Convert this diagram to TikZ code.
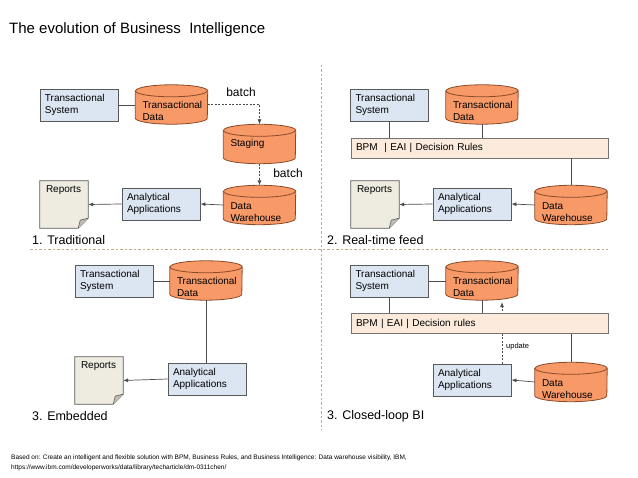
\documentclass[tikz,border=0pt]{standalone}
\usepackage{fontspec}
\setmainfont{Liberation Sans}
\usetikzlibrary{arrows.meta}
\definecolor{cylfill}{HTML}{F79A68}
\definecolor{cylline}{HTML}{8A4A2A}
\definecolor{boxfill}{HTML}{DCE6F2}
\definecolor{barfill}{HTML}{FCEBDC}
\definecolor{repfill}{HTML}{EEEBE1}
\definecolor{sepcol}{HTML}{C8A882}
\tikzset{
  box/.style={draw=black!65,fill=boxfill,line width=0.8pt,minimum width=78pt,minimum height=32pt,text width=68pt,align=left,inner sep=4pt,font=\fontsize{10}{12}\selectfont},
  cylnode/.style={minimum width=72pt,minimum height=39pt,inner sep=0pt},
  cylst/.style={draw=cylline,fill=cylfill,line width=0.8pt},
  cyltext/.style={anchor=west,align=left,inner sep=0pt,font=\fontsize{10}{12}\selectfont},
  bar/.style={draw=black!55,fill=barfill,line width=0.6pt,minimum width=257pt,minimum height=20pt,text width=247pt,align=left,inner sep=4pt,font=\fontsize{10}{12}\selectfont},
  rep/.style={minimum width=48pt,minimum height=47pt,inner sep=0pt},
  conn/.style={draw=black!70,line width=0.7pt},
  arr/.style={conn,-{Latex[length=5pt,width=4pt]}},
  darr/.style={conn,dash pattern=on 2pt off 1.5pt,-{Latex[length=5pt,width=4pt]}},
  lbl/.style={font=\fontsize{12.5}{14}\selectfont,inner sep=0pt},
  sep/.style={draw=sepcol,line width=0.6pt,dash pattern=on 2.5pt off 2pt}
}
\newcommand\mycyl[5]{%
  \node[cylnode] (#1) at (#2,#3) {};
  \draw[cylst] ([yshift=-6pt]#1.north west) -- ([yshift=6pt]#1.south west)
    arc[start angle=180,end angle=360,x radius=36pt,y radius=6pt]
    -- ([yshift=-6pt]#1.north east)
    arc[start angle=0,end angle=180,x radius=36pt,y radius=6pt] -- cycle;
  \draw[cylline,line width=0.8pt] ([yshift=-6pt]#1.north west) arc[start angle=180,end angle=360,x radius=36pt,y radius=6pt];
  \node[cyltext] (#1-t) at ([xshift=7pt,yshift=#5]#1.west) {#4};
}
\newcommand\myrep[3]{%
  \node[rep] (#1) at (#2,#3) {};
  \draw[draw=black!65,fill=repfill,line width=0.8pt] (#1.north west) -- (#1.north east) -- ([yshift=10pt]#1.south east) -- ([xshift=-10pt]#1.south east) -- (#1.south west) -- cycle;
  \draw[draw=black!65,fill=repfill!80!black,line width=0.6pt] ([yshift=10pt]#1.south east) -- ([xshift=-8pt,yshift=8pt]#1.south east) -- ([xshift=-10pt]#1.south east);
  \node[anchor=north west,inner sep=0pt,font=\fontsize{10}{12}\selectfont] (#1-t) at ([xshift=6pt,yshift=-5pt]#1.north west) {Reports};
}
\begin{document}
\begin{tikzpicture}[x=1pt,y=1pt]
\useasboundingbox[fill=white] (0,0) rectangle (638,478);
\node[anchor=west,inner sep=0pt,font=\fontsize{15}{18}\selectfont] (title) at (9,448) {The evolution of Business\ \ Intelligence};
% separators
\coordinate (v1) at (321,413); \coordinate (v2) at (321,48);
\coordinate (h1) at (30,229); \coordinate (h2) at (608,229);
\draw[sep] (v1) -- (v2);
\draw[sep] (h1) -- (h2);
% panel 1
\node[box] (ts1) at (79,373) {Transactional\\System};
\mycyl{td1}{171.5}{373.5}{Transactional\\Data}{-6pt}
\mycyl{st1}{259.5}{334}{Staging}{0pt}
\mycyl{dw1}{259.5}{273}{Data\\Warehouse}{-7pt}
\node[box] (aa1) at (161,274) {Analytical\\Applications};
\myrep{rp1}{64}{273.5}
\draw[conn] (ts1) -- (td1.west |- ts1.east);
\draw[darr] ([yshift=0pt]td1.east) -| (st1.north);
\draw[darr] (st1.south) -- (dw1.north);
\node[lbl,font=\fontsize{12}{14}\selectfont] (b1) at (241,386) {batch};
\node[lbl,font=\fontsize{12}{14}\selectfont] (b2) at (288,305) {batch};
\draw[arr] (dw1.west) -- (aa1.east);
\draw[arr] (aa1.west) -- (rp1.east);
\node[lbl,anchor=west] (l1) at (32,238) {1. Traditional};
% panel 2
\node[box] (ts2) at (389.5,373) {Transactional\\System};
\mycyl{td2}{482}{373.5}{Transactional\\Data}{-6pt}
\node[bar] (bar2) at (479.5,330) {BPM\ \ | EAI | Decision Rules};
\mycyl{dw2}{571}{273}{Data\\Warehouse}{-7pt}
\node[box] (aa2) at (472,274) {Analytical\\Applications};
\myrep{rp2}{375}{273.5}
\draw[conn] (ts2.south) -- (ts2.south |- bar2.north);
\draw[conn] (td2.south) -- (td2.south |- bar2.north);
\draw[conn] (dw2.north |- bar2.south) -- (dw2.north);
\draw[arr] (dw2.west) -- (aa2.east);
\draw[arr] (aa2.west) -- (rp2.east);
\node[lbl,anchor=west] (l2) at (327,238) {2. Real-time feed};
% panel 3
\node[box] (ts3) at (114,197) {Transactional\\System};
\mycyl{td3}{206}{197.5}{Transactional\\Data}{-6pt}
\node[box] (aa3) at (207,99) {Analytical\\Applications};
\myrep{rp3}{99}{97.5}
\draw[conn] (ts3) -- (td3.west |- ts3.east);
\draw[conn] (td3.south) -- (td3.south |- aa3.north);
\draw[arr] (aa3.west) -- (rp3.east);
\node[lbl,anchor=west] (l3) at (32,62) {3. Embedded};
% panel 4
\node[box] (ts4) at (389.5,197) {Transactional\\System};
\mycyl{td4}{482}{197.5}{Transactional\\Data}{-6pt}
\mycyl{dw4}{571}{96}{Data\\Warehouse}{-7pt}
\node[box] (aa4) at (472,98) {Analytical\\Applications};
\draw[darr] ([xshift=30pt]aa4.north) -- ([xshift=30pt,yshift=-2pt]aa4.north |- td4.south);
\node[bar] (bar4) at (479.5,154.5) {BPM | EAI | Decision rules};
\draw[conn] (ts4) -- (td4.west |- ts4.east);
\draw[conn] (ts4.south) -- (ts4.south |- bar4.north);
\draw[conn] (td4.south) -- (td4.south |- bar4.north);
\draw[conn] (dw4.north |- bar4.south) -- (dw4.north);
\draw[arr] (dw4.west) -- (aa4.east);
\node[anchor=west,inner sep=0pt,font=\fontsize{7.5}{9}\selectfont] (up) at (506,131) {update};
\node[lbl,anchor=west] (l4) at (327,62) {3. Closed-loop BI};
% footer
\node[anchor=north west,align=left,inner sep=0pt,font=\fontsize{6.5}{9.5}\selectfont] (foot) at (11,23) {Based on: Create an intelligent and flexible solution with BPM, Business Rules, and Business Intelligence: Data warehouse visibility, IBM,\\https://www.ibm.com/developerworks/data/library/techarticle/dm-0311chen/};
\end{tikzpicture}
\end{document}
